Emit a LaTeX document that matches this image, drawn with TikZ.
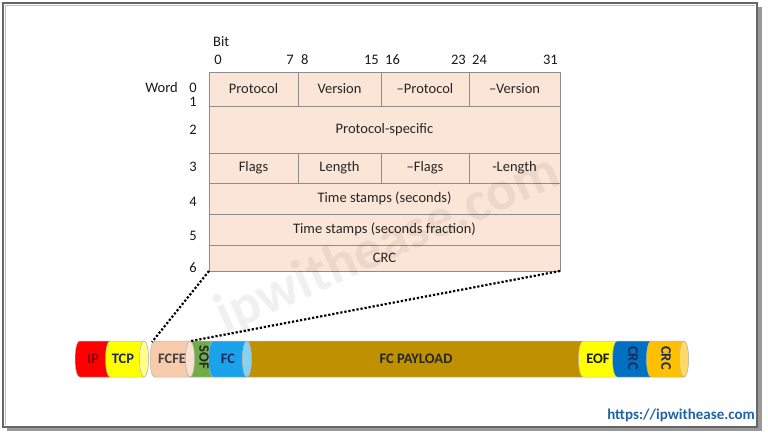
\documentclass[tikz,border=0pt]{standalone}
\usepackage{fontspec}
\setmainfont{Carlito}
\definecolor{tabfill}{HTML}{FBE5D6}
\definecolor{tabline}{HTML}{8C8C8C}
\definecolor{ipred}{HTML}{FF0000}
\definecolor{iptxt}{HTML}{8B0000}
\definecolor{ylw}{HTML}{FFFF00}
\definecolor{ylwcap}{HTML}{FFFF8C}
\definecolor{peach}{HTML}{F8CBAD}
\definecolor{peachcap}{HTML}{FBE1D0}
\definecolor{sofgreen}{HTML}{70AD47}
\definecolor{fcblue}{HTML}{1AA3EA}
\definecolor{fccap}{HTML}{86D2F5}
\definecolor{payload}{HTML}{BF9000}
\definecolor{crcblue}{HTML}{0070C0}
\definecolor{crcorange}{HTML}{FFC000}
\definecolor{crccap}{HTML}{FFD966}
\definecolor{navytxt}{HTML}{1F2A5C}
\definecolor{urlblue}{HTML}{2263A6}
\newcommand{\cylseg}[3]{\path[seg, fill=#3] (#1,341) -- (#2,341) arc[start angle=90, end angle=-90, x radius=4.5pt, y radius=18pt] -- (#1,377) arc[start angle=270, end angle=90, x radius=4.5pt, y radius=18pt] -- cycle;}
\newcommand{\cylcap}[2]{\path[seg, fill=#2] (#1,359) ellipse[x radius=4.5pt, y radius=18pt];}
\begin{document}
\begin{tikzpicture}[x=1pt,y=-1pt,
  cell/.style={draw=tabline, fill=tabfill, line width=0.9pt, rectangle, inner sep=0pt, outer sep=0pt, font=\fontsize{14.5}{16}\selectfont, text=black!85},
  lbl/.style={font=\fontsize{14.5}{16}\selectfont, inner sep=0pt, text=black!90},
  seg/.style={draw=black!28, line width=0.5pt},
  segtxt/.style={font=\bfseries\fontsize{14.5}{16}\selectfont, inner sep=0pt},
  dotline/.style={line width=2.2pt, dash pattern=on 2.2pt off 1.9pt, black}
]
\useasboundingbox (0,0) rectangle (768,437);
% frame
\fill[white] (0,0) rectangle (768,437);
\fill[black!40] (7,7) rectangle (762,431);
\path[fill=white, draw=black!60, line width=1.5pt] (3,3) rectangle (757,427);
\draw[black!25, line width=0.6pt] (5,5) -- (5,425);
\draw[black!25, line width=0.6pt] (5,5) -- (755,5);

% bit labels
\node[lbl, anchor=west] (bit) at (213,42) {Bit};
\node[lbl] (b0) at (218,60) {0};
\node[lbl, anchor=east] (b7) at (294,60) {7};
\node[lbl, anchor=west] (b8) at (301,60) {8};
\node[lbl, anchor=east] (b15) at (379,60) {15};
\node[lbl, anchor=west] (b16) at (385,60) {16};
\node[lbl, anchor=east] (b23) at (466,60) {23};
\node[lbl, anchor=west] (b24) at (472,60) {24};
\node[lbl, anchor=east] (b31) at (558,60) {31};

% word labels
\node[lbl, anchor=east] (word) at (178,88) {Word};
\node[lbl] (w0) at (193,88) {0};
\node[lbl] (w1) at (193,102) {1};
\node[lbl] (w2) at (193,130) {2};
\node[lbl] (w3) at (193,167) {3};
\node[lbl] (w4) at (193,202) {4};
\node[lbl] (w5) at (193,236) {5};
\node[lbl] (w6) at (193,268) {6};

% table
\node[cell, minimum width=89pt, minimum height=34pt] (c00) at (253.5,89) {Protocol};
\node[cell, minimum width=83pt, minimum height=34pt] (c01) at (339.5,89) {Version};
\node[cell, minimum width=88pt, minimum height=34pt] (c02) at (425,89) {–Protocol};
\node[cell, minimum width=91pt, minimum height=34pt] (c03) at (514.5,89) {–Version};
\node[cell, minimum width=351pt, minimum height=47pt] (r2) at (384.5,129.5) {Protocol-specific};
\node[cell, minimum width=89pt, minimum height=30pt] (c30) at (253.5,168) {Flags};
\node[cell, minimum width=83pt, minimum height=30pt] (c31) at (339.5,168) {Length};
\node[cell, minimum width=88pt, minimum height=30pt] (c32) at (425,168) {–Flags};
\node[cell, minimum width=91pt, minimum height=30pt] (c33) at (514.5,168) {-Length};
\node[cell, minimum width=351pt, minimum height=31pt] (r4) at (384.5,198.5) {Time stamps (seconds)};
\node[cell, minimum width=351pt, minimum height=31pt] (r5) at (384.5,229.5) {Time stamps (seconds fraction)};
\node[cell, minimum width=351pt, minimum height=26pt] (r6) at (384.5,258) {CRC};

% cylinder bar
\cylseg{79.5}{110}{ipred}
\cylseg{110}{144}{ylw}
\cylseg{154.5}{190}{peach}
\cylseg{190}{213}{sofgreen}
\cylseg{213}{247}{fcblue}
\cylseg{247}{583}{payload}
\cylseg{583}{617}{ylw}
\cylseg{617}{651}{crcblue}
\cylseg{651}{684}{crcorange}
\cylcap{144}{ylwcap}
\cylcap{190}{peachcap}
\cylcap{247}{fccap}
\cylcap{684}{crccap}

\node[segtxt, text=iptxt] (tip) at (93,359) {IP};
\node[segtxt, text=navytxt] (ttcp) at (123,359) {TCP};
\node[segtxt, text=black!75] (tfcfe) at (172,359) {FCFE};
\node[segtxt, text=black!85, rotate=-90] (tsof) at (204,357) {SOF};
\node[segtxt, text=navytxt] (tfc) at (228,359) {FC};
\node[segtxt, text=black!85] (tpay) at (416,359) {FC PAYLOAD};
\node[segtxt, text=black!90] (teof) at (598,359) {EOF};
\node[segtxt, text=navytxt, rotate=-90] (tcrc1) at (633,358) {CRC};
\node[segtxt, text=navytxt, rotate=-90] (tcrc2) at (666,358) {CRC};

% dotted connectors
\coordinate (fcfeL) at (152,342);
\coordinate (fcfeR) at (191,341);
\draw[dotline] (r6.south west) -- (fcfeL);
\draw[dotline] (r6.south east) -- (fcfeR);

% watermark
\node[font=\bfseries\fontsize{56}{60}\selectfont, text=black, opacity=0.06, rotate=24] (wm) at (388,245) {ipwithease.com};

% url
\node[font=\bfseries\fontsize{15}{17}\selectfont, text=urlblue, anchor=east, inner sep=0pt] (url) at (755,415) {https://ipwithease.com};
\end{tikzpicture}
\end{document}
